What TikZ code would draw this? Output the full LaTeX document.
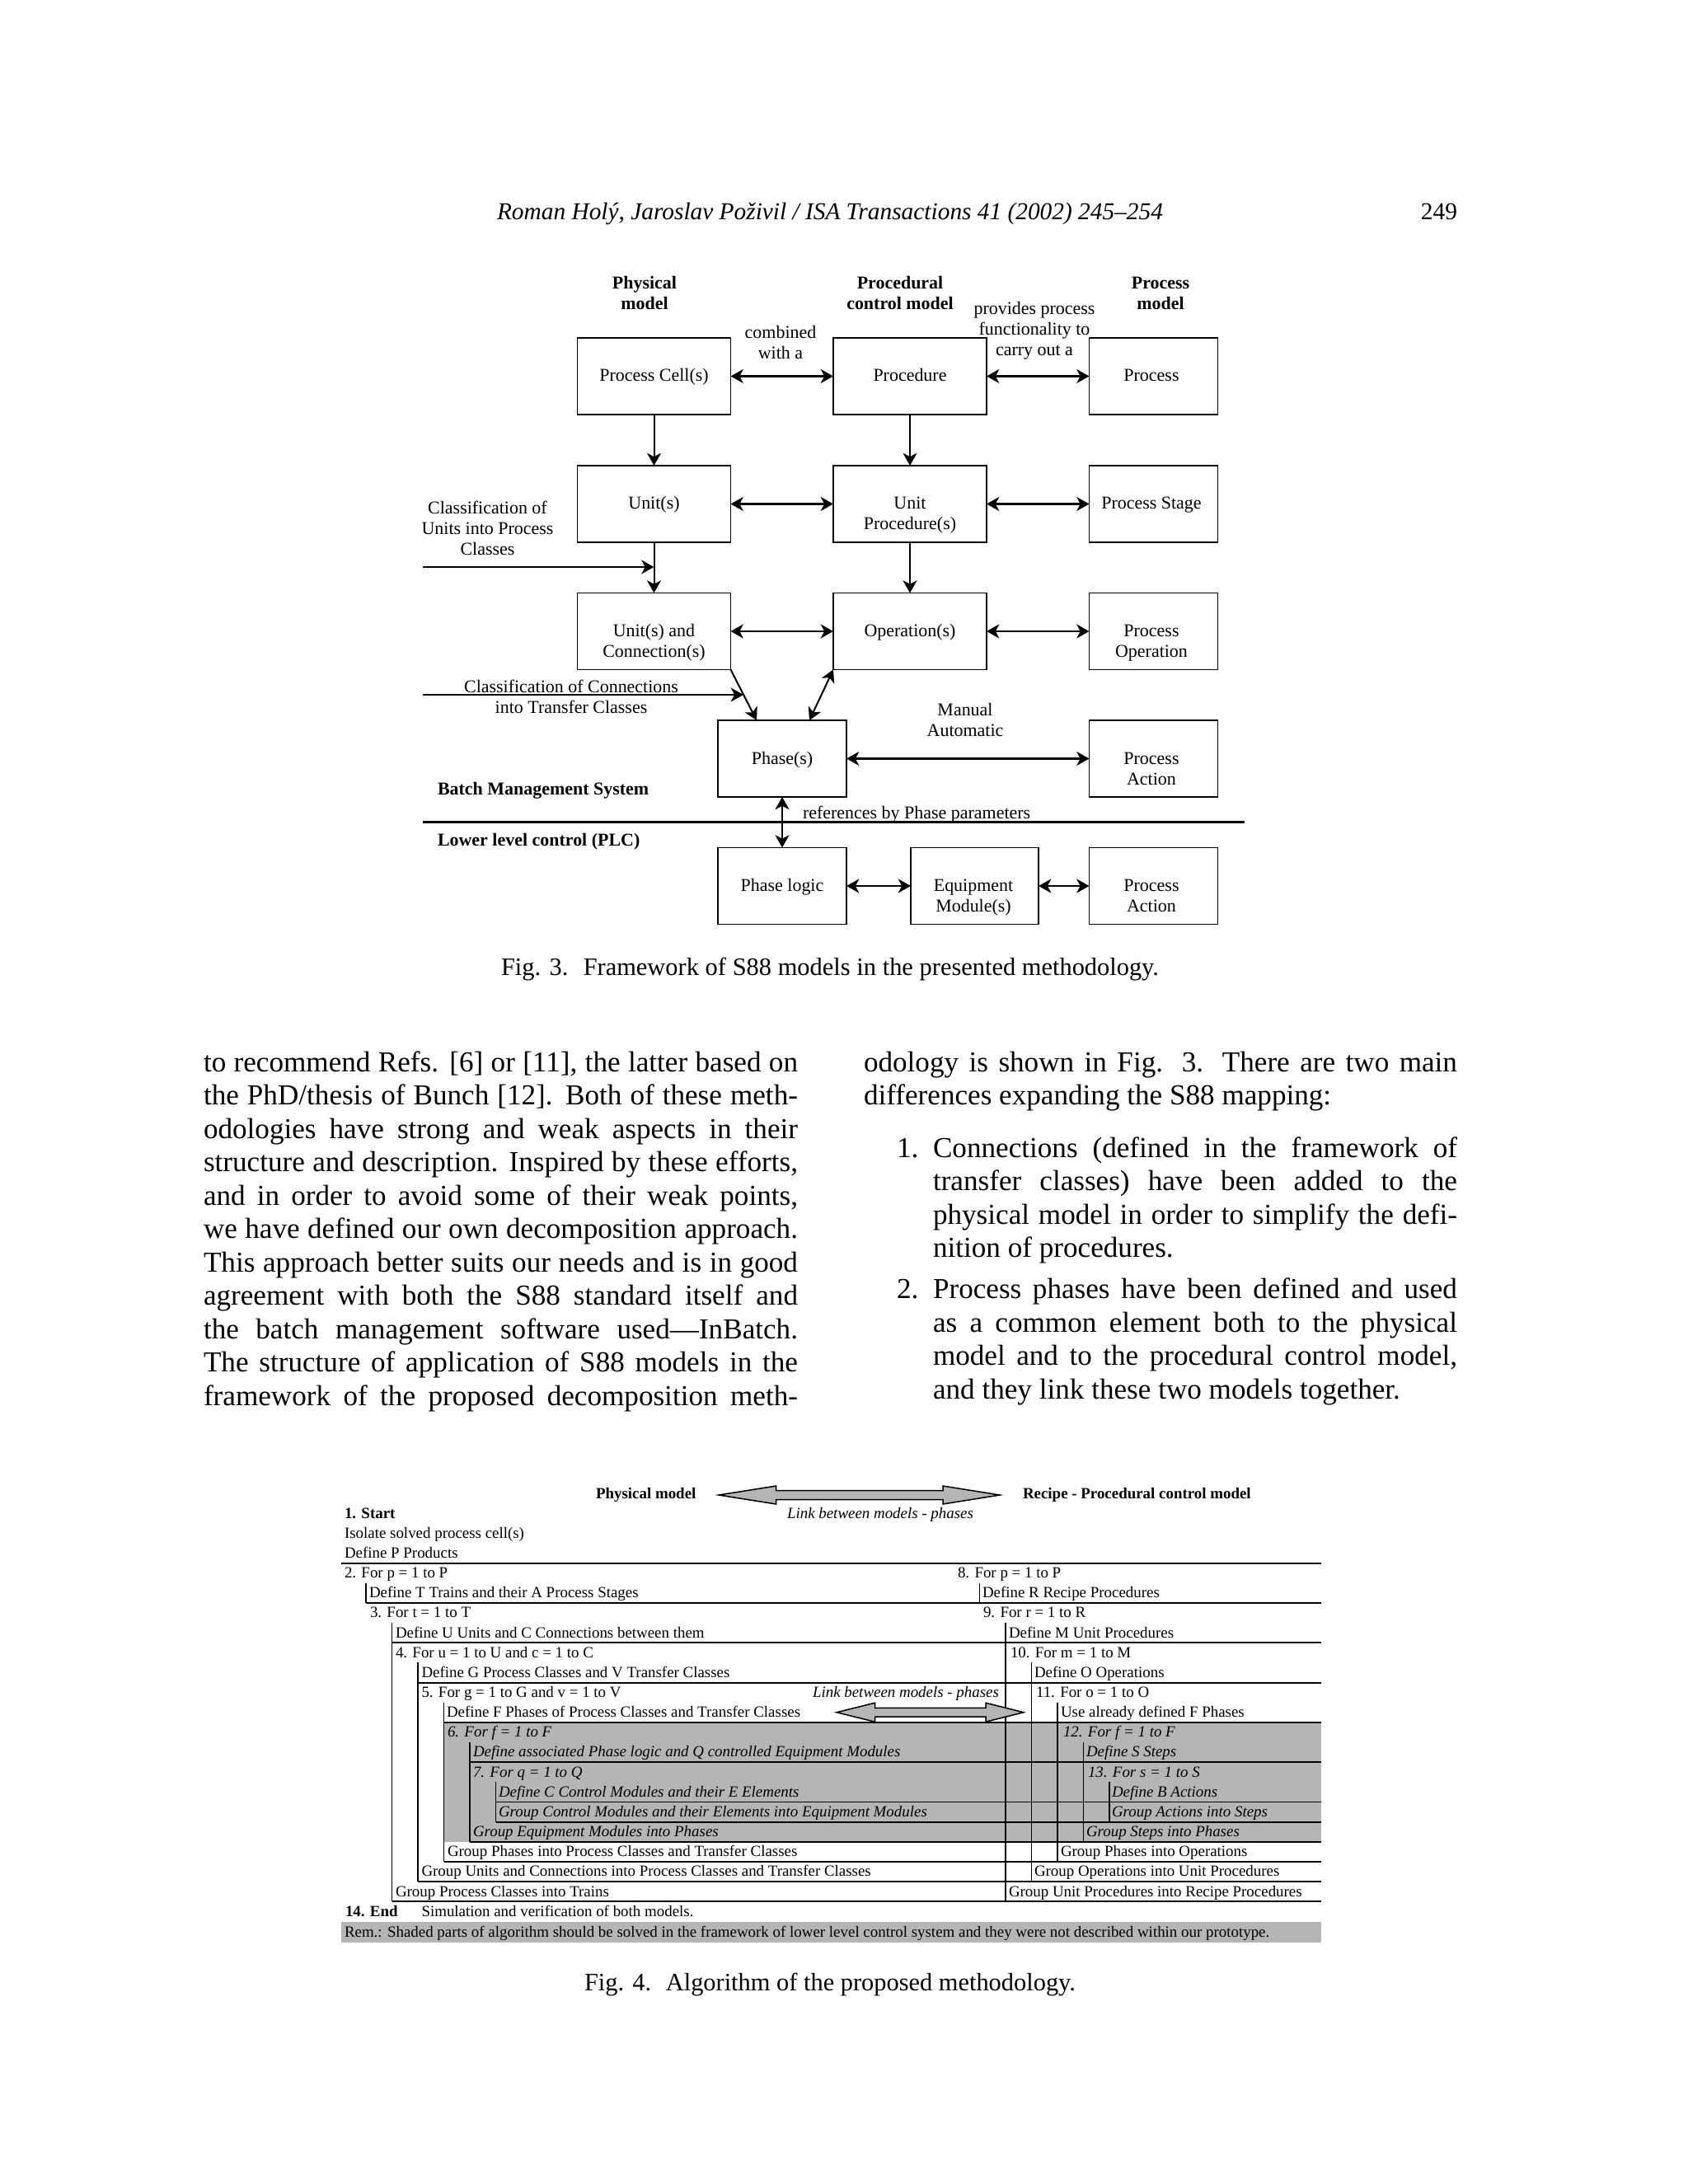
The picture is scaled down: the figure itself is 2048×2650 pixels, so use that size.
\documentclass[tikz,border=0pt]{standalone}
\usepackage{fontspec}
\setmainfont{Liberation Serif}
\usetikzlibrary{arrows.meta}
\newdimen\pxu
\pxu=0.296pt
\newcommand{\mlines}[1]{\begin{tabular}[t]{@{}c@{}}#1\end{tabular}}
\newcommand{\jline}[2]{\makebox[#1\pxu][s]{#2}}
\definecolor{greyfill}{gray}{0.71}
\tikzset{
  every node/.style={inner sep=0pt, outer sep=0pt},
  body/.style={font=\fontsize{10.4}{12.5}\selectfont, anchor=base west},
  hdr/.style={font=\fontsize{8.7}{10}\selectfont\itshape, anchor=base west},
  pgno/.style={font=\fontsize{8.7}{10}\selectfont, anchor=base east},
  capt/.style={font=\fontsize{9}{11}\selectfont, anchor=base west},
  ft/.style={font=\fontsize{6.5}{7.4}\selectfont, anchor=base},
  ftl/.style={font=\fontsize{6.5}{7.4}\selectfont, anchor=base west},
  ftb/.style={font=\fontsize{6.5}{7.4}\selectfont\bfseries, anchor=base},
  ftbl/.style={font=\fontsize{6.5}{7.4}\selectfont\bfseries, anchor=base west},
  sbox/.style n args={2}{draw, line width=0.5pt, minimum width=#1*\pxu, minimum height=#2*\pxu},
  hd/.tip={Stealth[length=4.5pt,width=5pt,inset=1.3pt]},
  dbl/.style={hd-hd, line width=0.8pt},
  sgl/.style={-hd, line width=0.6pt},
  fr/.style={font=\fontsize{5.6}{6.7}\selectfont, anchor=base west},
  fit/.style={font=\fontsize{5.6}{6.7}\selectfont\itshape, anchor=base west},
  fbd/.style={font=\fontsize{5.6}{6.7}\selectfont\bfseries, anchor=base west},
  rule4/.style={line width=0.55pt},
  garrow/.style={fill=greyfill, draw=black, line width=0.45pt, line join=miter},
}
\begin{document}
\begin{tikzpicture}[x=0.296pt, y=-0.296pt]
\useasboundingbox (0,0) rectangle (2048,2650);
\fill[white] (0,0) rectangle (2048,2650);

% ---------- header ----------
\node[hdr] (hd1) at (603,267) {\jline{808}{Roman Holý, Jaroslav Poživil / ISA Transactions 41 (2002) 245–254}};
\node[pgno] (hd2) at (1768,267) {249};

% ---------- Fig. 3 ----------
\node[ftb] (lab1) at (782,350.7) {\mlines{Physical\\model}};
\node[ftb] (lab2) at (1092,350.7) {\mlines{Procedural\\control model}};
\node[ftb] (lab3) at (1408,350.7) {\mlines{Process\\model}};
\node[ft] (lab4) at (947,410.7) {\mlines{combined\\with a}};
\node[ft] (lab5) at (1255,381.7) {\mlines{provides process\\functionality to\\carry out a}};

\node[sbox={186}{93}] (pc) at (793.5,456.5) {};
\node[sbox={186}{93}] (proc) at (1104,456.5) {};
\node[sbox={156}{93}] (prc) at (1399.5,456.5) {};
\node[sbox={186}{93}] (unit) at (793.5,611.5) {};
\node[sbox={186}{93}] (up) at (1104,611.5) {};
\node[sbox={156}{93}] (ps) at (1399.5,611.5) {};
\node[sbox={186}{93}] (uc) at (793.5,766) {};
\node[sbox={186}{93}] (ops) at (1104,766) {};
\node[sbox={156}{93}] (po) at (1399.5,766) {};
\node[sbox={156}{93}] (ph) at (949,920.5) {};
\node[sbox={156}{93}] (pa4) at (1399.5,920.5) {};
\node[sbox={156}{93}] (pl) at (949,1075) {};
\node[sbox={155}{93}] (em) at (1182.5,1075) {};
\node[sbox={156}{93}] (pa5) at (1399.5,1075) {};

\node[ft] (tpc) at (793.5,463) {Process Cell(s)};
\node[ft] (tproc) at (1104,463) {Procedure};
\node[ft] (tprc) at (1397,463) {Process};
\node[ft] (tunit) at (793.5,618) {Unit(s)};
\node[ft] (tup) at (1104,618) {\mlines{Unit\\Procedure(s)}};
\node[ft] (tps) at (1397,618) {Process Stage};
\node[ft] (tuc) at (793.5,772.5) {\mlines{Unit(s) and\\Connection(s)}};
\node[ft] (tops) at (1104,772.5) {Operation(s)};
\node[ft] (tpo) at (1397,772.5) {\mlines{Process\\Operation}};
\node[ft] (tph) at (949,927) {Phase(s)};
\node[ft] (tpa4) at (1397,927) {\mlines{Process\\Action}};
\node[ft] (tpl) at (949,1081.5) {Phase logic};
\node[ft] (tem) at (1181,1081.5) {\mlines{Equipment\\Module(s)}};
\node[ft] (tpa5) at (1397,1081.5) {\mlines{Process\\Action}};

\node[ft] (cl1) at (591.5,623.3) {\mlines{Classification of\\Units into Process\\Classes}};
\node[ft] (cl2) at (693,840) {\mlines{Classification of Connections\\into Transfer Classes}};
\node[ft] (man) at (1171,868.3) {\mlines{Manual\\Automatic}};
\node[ftbl] (bms) at (531,964) {Batch Management System};
\node[ftbl] (llc) at (531,1026.7) {Lower level control (PLC)};
\node[ftl] (ref) at (974,993.3) {references by Phase parameters};

\coordinate (cuL) at (513,688);
\coordinate (cuR) at (793.5,688);
\coordinate (ccL) at (513,843);
\coordinate (ccR) at (902,843);
\coordinate (phA) at (918,874);
\coordinate (phB) at (982,874);
\coordinate (sepL) at (513,997.5);
\coordinate (sepR) at (1510,997.5);

\draw[dbl] (pc.east) -- (proc.west);
\draw[dbl] (proc.east) -- (prc.west);
\draw[dbl] (unit.east) -- (up.west);
\draw[dbl] (up.east) -- (ps.west);
\draw[dbl] (uc.east) -- (ops.west);
\draw[dbl] (ops.east) -- (po.west);
\draw[dbl] (ph.east) -- (pa4.west);
\draw[dbl] (pl.east) -- (em.west);
\draw[dbl] (em.east) -- (pa5.west);
\draw[sgl] (pc.south) -- (unit.north);
\draw[sgl] (proc.south) -- (up.north);
\draw[sgl] (unit.south) -- (uc.north);
\draw[sgl] (up.south) -- (ops.north);
\draw[sgl, line width=0.75pt] (cuL) -- (cuR);
\draw[sgl, line width=0.75pt] (ccL) -- (ccR);
\draw[sgl] (uc.south east) -- (phA);
\draw[dbl, line width=0.6pt] (phB) -- (ops.south west);
\draw[dbl, line width=0.6pt] (ph.south) -- (pl.north);
\draw[line width=0.6pt] (sepL) -- (sepR);

\node[capt] (cap3) at (608,1183) {\jline{798}{Fig. 3. \ Framework of S88 models in the presented methodology.}};

% ---------- body text ----------
\node[body] (l1) at (247,1300) {\jline{721}{to recommend Refs. [6] or [11], the latter based on}};
\node[body] (l2) at (247,1340.5) {\jline{721}{the PhD/thesis of Bunch [12]. Both of these meth-}};
\node[body] (l3) at (247,1381) {\jline{721}{odologies have strong and weak aspects in their}};
\node[body] (l4) at (247,1421.5) {\jline{721}{structure and description. Inspired by these efforts,}};
\node[body] (l5) at (247,1462) {\jline{721}{and in order to avoid some of their weak points,}};
\node[body] (l6) at (247,1502.5) {\jline{721}{we have defined our own decomposition approach.}};
\node[body] (l7) at (247,1543) {\jline{721}{This approach better suits our needs and is in good}};
\node[body] (l8) at (247,1583.5) {\jline{721}{agreement with both the S88 standard itself and}};
\node[body] (l9) at (247,1624) {\jline{721}{the batch management software used—InBatch.}};
\node[body] (l10) at (247,1664.5) {\jline{721}{The structure of application of S88 models in the}};
\node[body] (l11) at (247,1705) {\jline{721}{framework of the proposed decomposition meth-}};

\node[body] (r1) at (1048,1300) {\jline{720}{odology is shown in Fig. 3. There are two main}};
\node[body] (r2) at (1048,1340.5) {differences expanding the S88 mapping:};
\node[body] (n1) at (1088,1404) {1.};
\node[body] (r3) at (1132,1404) {\jline{636}{Connections (defined in the framework of}};
\node[body] (r4) at (1132,1444.5) {\jline{636}{transfer classes) have been added to the}};
\node[body] (r5) at (1132,1485) {\jline{636}{physical model in order to simplify the defi-}};
\node[body] (r6) at (1132,1525.5) {nition of procedures.};
\node[body] (n2) at (1088,1575.5) {2.};
\node[body] (r7) at (1132,1575.5) {\jline{636}{Process phases have been defined and used}};
\node[body] (r8) at (1132,1616) {\jline{636}{as a common element both to the physical}};
\node[body] (r9) at (1132,1656.5) {\jline{636}{model and to the procedural control model,}};
\node[body] (r10) at (1132,1697) {and they link these two models together.};

% ---------- Fig. 4 ----------
\fill[greyfill] (538.5,2089.9) rectangle (1603,2234.8);
\fill[greyfill] (414,2332.3) rectangle (1603,2357.3);

\draw[rule4] (414,1896.7) -- (1603,1896.7);
\foreach \xa/\yy in {444/1945, 475.5/1993.3, 507/2041.6, 538.5/2089.9, 570/2138.2, 601.5/2186.5, 601.5/2210.65, 570/2234.8, 538.5/2258.95, 507/2283.1, 475.5/2307.25}
  \draw[rule4] (\xa,\yy) -- (1603,\yy);
\foreach \xa/\ya/\yb in {444/1920.85/1945, 475.5/1969.15/2307.25, 507/2017.45/2283.1, 538.5/2065.75/2258.95, 570/2114.05/2234.8, 601.5/2162.35/2210.65,
  1188.5/1920.85/1945, 1220/1969.15/2307.25, 1251.5/2017.45/2283.1, 1283/2065.75/2258.95, 1314.5/2114.05/2234.8, 1346/2162.35/2210.65}
  \draw[rule4] (\xa,\ya) -- (\xa,\yb);

% grey link arrows
\filldraw[garrow] (872,1814) -- (941.5,1803) -- (941.5,1808.5) -- (1144,1808.5) -- (1144,1803) -- (1213,1814) -- (1144,1825) -- (1144,1819.5) -- (941.5,1819.5) -- (941.5,1825) -- cycle;
\filldraw[garrow] (1015,2077.7) -- (1061.5,2066.2) -- (1061.5,2072.4) -- (1196,2072.4) -- (1196,2066.2) -- (1241.7,2077.7) -- (1196,2089.2) -- (1196,2083) -- (1061.5,2083) -- (1061.5,2089.2) -- cycle;

\node[fbd] (a0) at (723,1818) {Physical model};
\node[fbd] (b0) at (1241,1818) {Recipe - Procedural control model};
\node[fbd] (a1) at (418,1842.15) {1. Start};
\node[fit] (lk1) at (955,1842.15) {Link between models - phases};
\node[fr] (a2) at (418,1866.3) {Isolate solved process cell(s)};
\node[fr] (a3) at (418,1890.45) {Define P Products};
\node[fr] (a4) at (418,1914.6) {2. For p = 1 to P};
\node[fr] (b4) at (1162,1914.6) {8. For p = 1 to P};
\node[fr] (a5) at (448,1938.75) {Define T Trains and their A Process Stages};
\node[fr] (b5) at (1192,1938.75) {Define R Recipe Procedures};
\node[fr] (a6) at (449,1962.9) {3. For t = 1 to T};
\node[fr] (b6) at (1193,1962.9) {9. For r = 1 to R};
\node[fr] (a7) at (480,1987.05) {Define U Units and C Connections between them};
\node[fr] (b7) at (1224,1987.05) {Define M Unit Procedures};
\node[fr] (a8) at (480,2011.2) {4. For u = 1 to U and c = 1 to C};
\node[fr] (b8) at (1226,2011.2) {10. For m = 1 to M};
\node[fr] (a9) at (511.5,2035.35) {Define G Process Classes and V Transfer Classes};
\node[fr] (b9) at (1255,2035.35) {Define O Operations};
\node[fr] (a10) at (511.5,2059.5) {5. For g = 1 to G and v = 1 to V};
\node[fit] (lk2) at (986,2059.5) {Link between models - phases};
\node[fr] (b10) at (1257,2059.5) {11. For o = 1 to O};
\node[fr] (a11) at (542,2083.65) {Define F Phases of Process Classes and Transfer Classes};
\node[fr] (b11) at (1287,2083.65) {Use already defined F Phases};
\node[fit] (a12) at (543,2107.8) {6. For f = 1 to F};
\node[fit] (b12) at (1290,2107.8) {12. For f = 1 to F};
\node[fit] (a13) at (574,2131.95) {Define associated Phase logic and Q controlled Equipment Modules};
\node[fit] (b13) at (1318,2131.95) {Define S Steps};
\node[fit] (a14) at (574,2156.1) {7. For q = 1 to Q};
\node[fit] (b14) at (1320,2156.1) {13. For s = 1 to S};
\node[fit] (a15) at (605,2180.25) {Define C Control Modules and their E Elements};
\node[fit] (b15) at (1349,2180.25) {Define B Actions};
\node[fit] (a16) at (605,2204.4) {Group Control Modules and their Elements into Equipment Modules};
\node[fit] (b16) at (1349,2204.4) {Group Actions into Steps};
\node[fit] (a17) at (574,2228.55) {Group Equipment Modules into Phases};
\node[fit] (b17) at (1318,2228.55) {Group Steps into Phases};
\node[fr] (a18) at (543,2252.7) {Group Phases into Process Classes and Transfer Classes};
\node[fr] (b18) at (1287,2252.7) {Group Phases into Operations};
\node[fr] (a19) at (511.5,2276.85) {Group Units and Connections into Process Classes and Transfer Classes};
\node[fr] (b19) at (1255,2276.85) {Group Operations into Unit Procedures};
\node[fr] (a20) at (480,2301) {Group Process Classes into Trains};
\node[fr] (b20) at (1224,2301) {Group Unit Procedures into Recipe Procedures};
\node[fbd] (a21) at (419,2325.15) {14. End};
\node[fr] (b21) at (511.5,2325.15) {Simulation and verification of both models.};
\node[fr] (rem) at (418,2350) {Rem.: Shaded parts of algorithm should be solved in the framework of lower level control system and they were not described within our prototype.};

\node[capt] (cap4) at (709,2415) {\jline{596}{Fig. 4. \ Algorithm of the proposed methodology.}};
\end{tikzpicture}
\end{document}
